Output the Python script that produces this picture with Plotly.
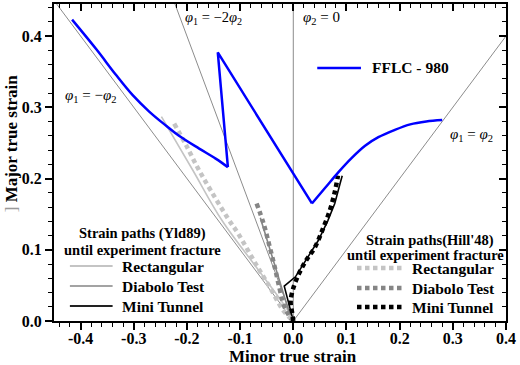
import plotly.graph_objects as go

# ---------------- data ----------------
# FFLC-980 (blue): left branch, jump, right branch
fflc_x = [-0.416, -0.370, -0.334, -0.302, -0.271, -0.239, -0.215, -0.177, -0.146, -0.123,
          -0.142, 0.035, 0.060, 0.085, 0.110, 0.135, 0.160, 0.190, 0.220, 0.250, 0.280]
fflc_y = [0.423, 0.381, 0.346, 0.317, 0.294, 0.274, 0.260, 0.242, 0.228, 0.216,
          0.377, 0.165, 0.187, 0.209, 0.229, 0.246, 0.258, 0.268, 0.276, 0.280, 0.282]
fflc_kinks = [9, 10, 11]  # indices of the sharp corners

# reference strain-ratio lines (each starts at the origin)
ref_x = {"m1": [0, -0.445], "m2": [0, -0.2225], "zero": [0, 0], "p1": [0, 0.4]}
ref_y = {"m1": [0, 0.445], "m2": [0, 0.445], "zero": [0, 0.445], "p1": [0, 0.4]}

# Strain paths Yld89 (solid)
rect_yld_x = [-0.248, -0.190, -0.134, -0.065, -0.013, 0.0]
rect_yld_y = [0.287, 0.213, 0.141, 0.071, 0.018, 0.0]
diab_yld_x = [-0.062, -0.047, -0.009, 0.0]
diab_yld_y = [0.145, 0.109, 0.015, 0.0]
mini_yld_x = [0.0, -0.017, 0.004, 0.028, 0.047, 0.065, 0.078, 0.088, 0.092]
mini_yld_y = [0.0, 0.049, 0.062, 0.090, 0.113, 0.141, 0.165, 0.193, 0.204]

# Strain paths Hill'48 (dotted)
rect_hill_x = [-0.224, -0.201, -0.179, -0.155, -0.123, -0.104, -0.069, -0.043, -0.019, 0.0]
rect_hill_y = [0.277, 0.246, 0.214, 0.183, 0.144, 0.123, 0.078, 0.046, 0.015, 0.0]
diab_hill_x = [-0.069, -0.056, -0.045, -0.035, -0.026, -0.019, -0.010, 0.0]
diab_hill_y = [0.165, 0.137, 0.106, 0.076, 0.046, 0.025, 0.010, 0.0]
mini_hill_x = [0.0, -0.002, -0.005, 0.0, 0.011, 0.024, 0.041, 0.056, 0.069, 0.078, 0.084]
mini_hill_y = [0.0, 0.011, 0.027, 0.046, 0.067, 0.085, 0.104, 0.130, 0.156, 0.181, 0.204]

x_tickvals = [-0.4, -0.3, -0.2, -0.1, 0.0, 0.1, 0.2, 0.3, 0.4]
x_ticktext = ["-0.4", "-0.3", "-0.2", "-0.1", "0.0", "0.1", "0.2", "0.3", "0.4"]
y_tickvals = [0.0, 0.1, 0.2, 0.3, 0.4]
y_ticktext = ["0.0", "0.1", "0.2", "0.3", "0.4"]

# ---------------- styles ----------------
FONT = "Liberation Serif"
C_LIGHT = "#c4c4c4"
C_MID = "#858585"
C_DARK = "#000000"
C_REF = "#8c8c8c"
DOT = "4.5px,3.5px"
BLUE = "#0000ff"

fig = go.Figure()

for k in ref_x:
    fig.add_trace(go.Scatter(x=ref_x[k], y=ref_y[k], mode="lines",
                             line=dict(color=C_REF, width=1), showlegend=False, hoverinfo="skip"))

fig.add_trace(go.Scatter(x=rect_yld_x, y=rect_yld_y, mode="lines",
                         line=dict(color=C_LIGHT, width=1.6, shape="spline"), showlegend=False))
fig.add_trace(go.Scatter(x=diab_yld_x, y=diab_yld_y, mode="lines",
                         line=dict(color=C_MID, width=1.6), showlegend=False))
fig.add_trace(go.Scatter(x=mini_yld_x, y=mini_yld_y, mode="lines",
                         line=dict(color=C_DARK, width=1.6), showlegend=False))

fig.add_trace(go.Scatter(x=rect_hill_x, y=rect_hill_y, mode="lines",
                         line=dict(color=C_LIGHT, width=4.5, dash=DOT, shape="spline"), showlegend=False))
fig.add_trace(go.Scatter(x=diab_hill_x, y=diab_hill_y, mode="lines",
                         line=dict(color=C_MID, width=4.5, dash=DOT, shape="spline"), showlegend=False))
fig.add_trace(go.Scatter(x=mini_hill_x, y=mini_hill_y, mode="lines",
                         line=dict(color=C_DARK, width=4.5, dash=DOT, shape="spline"), showlegend=False))

# FFLC drawn as smooth branches joined by straight segments at the sharp corners
a, b, c = fflc_kinks
fig.add_trace(go.Scatter(x=fflc_x[:a + 1], y=fflc_y[:a + 1], mode="lines",
                         line=dict(color=BLUE, width=2.5, shape="spline"), showlegend=False))
fig.add_trace(go.Scatter(x=fflc_x[a:c + 1], y=fflc_y[a:c + 1], mode="lines",
                         line=dict(color=BLUE, width=2.5), showlegend=False))
fig.add_trace(go.Scatter(x=fflc_x[c:], y=fflc_y[c:], mode="lines",
                         line=dict(color=BLUE, width=2.5, shape="spline"), showlegend=False))

# ---------------- axes ----------------
L, R, T, B = 54, 11, 4, 44
W, H = 520, 365
pw, ph = W - L - R, H - T - B


def px(x):
    return (x - L) / pw


def py(y):
    return (H - B - y) / ph


tickfont = dict(family=FONT, size=16, color="black", weight="bold")
common = dict(showgrid=False, zeroline=False, showline=True, linecolor="black", linewidth=2,
              ticks="outside", ticklen=7, tickwidth=1.5, tickcolor="black")
fig.update_xaxes(range=[-0.45, 0.4], tickvals=x_tickvals, ticktext=x_ticktext, tickfont=tickfont,
                 ticklabelstandoff=-5,
                 minor=dict(dtick=0.02, tick0=0, ticks="outside", ticklen=4, tickcolor="black", tickwidth=1),
                 **common)
fig.update_yaxes(range=[0, 0.445], tickvals=y_tickvals, ticktext=y_ticktext, tickfont=tickfont,
                 minor=dict(dtick=0.02, tick0=0, ticks="outside", ticklen=4, tickcolor="black", tickwidth=1),
                 **common)

fig.update_layout(
    xaxis2=dict(overlaying="x", side="top", matches="x", range=[-0.45, 0.4], showticklabels=False,
                tickvals=x_tickvals, ticks="inside", ticklen=7, tickwidth=1.5, tickcolor="black",
                minor=dict(dtick=0.02, tick0=0, ticks="inside", ticklen=4, tickcolor="black", tickwidth=1),
                showline=True, linecolor="black", linewidth=2, showgrid=False, zeroline=False),
    yaxis2=dict(overlaying="y", side="right", range=[0, 0.445], showticklabels=False,
                tickvals=y_tickvals, ticks="inside", ticklen=7, tickwidth=1.5, tickcolor="black",
                minor=dict(dtick=0.02, tick0=0, ticks="inside", ticklen=4, tickcolor="black", tickwidth=1),
                showline=True, linecolor="black", linewidth=2, showgrid=False, zeroline=False),
)
# dummy trace to activate secondary axes
fig.add_trace(go.Scatter(x=[None], y=[None], xaxis="x2", yaxis="y2", showlegend=False))

fig.update_layout(width=W, height=H, margin=dict(l=L, r=R, t=T, b=B),
                  paper_bgcolor="white", plot_bgcolor="white", showlegend=False,
                  font=dict(family=FONT, color="black"))

# ---------------- annotations ----------------
ann = []


def add_text(text, x, y, size=15, bold=True, xanchor="center", angle=0, color="black"):
    ann.append(dict(text=text, x=px(x), y=py(y), xref="paper", yref="paper", showarrow=False,
                    xanchor=xanchor, yanchor="middle", textangle=angle,
                    font=dict(family=FONT, size=size, color=color, weight="bold" if bold else "normal")))


add_text("Minor true strain", 295, 356, size=17)
add_text("<span style='font-weight:normal;color:#999'>]</span> Major true strain", 11, 143, size=17, angle=-90)

phi1, phi2 = "<i>φ</i><sub>1</sub>", "<i>φ</i><sub>2</sub>"
add_text(f"{phi1} = −{phi2}", 91, 96, size=15, bold=False)
add_text(f"{phi1} = −2{phi2}", 215, 18, size=14.5, bold=False)
add_text(f"{phi2} = 0", 323, 18, size=15, bold=False)
add_text(f"{phi1} = {phi2}", 474, 135, size=15, bold=False)

add_text("FFLC - 980", 372, 68, size=15.5, xanchor="left")

add_text("Strain paths (Yld89)", 143, 234, size=14.5)
add_text("until experiment fracture", 143, 250, size=14.5)
for name, yy in zip(["Rectangular", "Diabolo Test", "Mini Tunnel"], [266, 286, 306]):
    add_text(name, 120, yy, size=15.5, xanchor="left")

add_text("Strain paths(Hill'48)", 432, 240, size=14.5)
add_text("until experiment fracture", 428, 255, size=14.5)
for name, yy in zip(["Rectangular", "Diabolo Test", "Mini Tunnel"], [268, 288, 307]):
    add_text(name, 412, yy, size=15.5, xanchor="left")

fig.update_layout(annotations=ann)

# ---------------- legend sample lines ----------------
shapes = []
shapes.append(dict(type="line", xref="paper", yref="paper", x0=px(319), x1=px(363), y0=py(68), y1=py(68),
                   line=dict(color=BLUE, width=2.5)))
for col, yy, w in zip([C_LIGHT, C_MID, "#222"], [266, 286, 306], [2, 1.6, 2]):
    shapes.append(dict(type="line", xref="paper", yref="paper", x0=px(70), x1=px(113), y0=py(yy), y1=py(yy),
                       line=dict(color=col, width=w)))
for col, yy in zip([C_LIGHT, C_MID, C_DARK], [268, 288, 307]):
    shapes.append(dict(type="line", xref="paper", yref="paper", x0=px(359), x1=px(405), y0=py(yy), y1=py(yy),
                       line=dict(color=col, width=4.5, dash=DOT)))
fig.update_layout(shapes=shapes)

fig.write_html("out.html", config={"displayModeBar": False},
               post_script="document.body.style.margin='0';document.body.style.padding='0';")
